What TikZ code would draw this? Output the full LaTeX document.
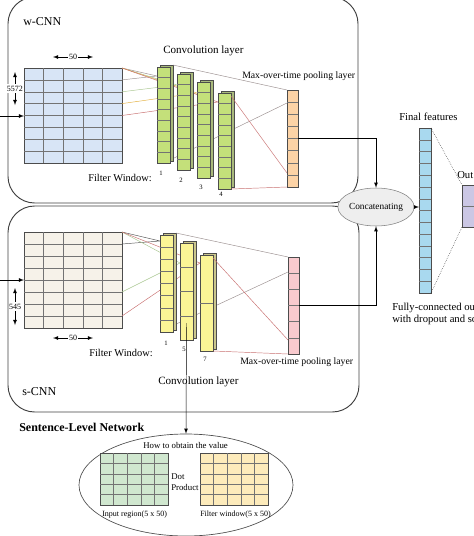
\documentclass[tikz,border=0pt]{standalone}
\usepackage{fontspec}
\setmainfont{Liberation Serif}
\usetikzlibrary{arrows,calc,positioning,shapes.geometric}

\definecolor{wblue}{HTML}{D8E5F6}
\definecolor{sbeige}{HTML}{F6F2E9}
\definecolor{wgreen}{HTML}{C4E07A}
\definecolor{syellow}{HTML}{FBF596}
\definecolor{porange}{HTML}{FCD3A6}
\definecolor{ppink}{HTML}{F9CACE}
\definecolor{fblue}{HTML}{A9D9EF}
\definecolor{opurple}{HTML}{CBC7E4}
\definecolor{vgreen}{HTML}{D0E7CF}
\definecolor{vyellow}{HTML}{FDEBBB}
\definecolor{cgray}{HTML}{EEEEEE}
\definecolor{wgray}{HTML}{9B9090}
\definecolor{wred}{HTML}{C87070}
\definecolor{wgrn}{HTML}{A9C690}
\definecolor{wyel}{HTML}{E3B040}
\definecolor{wdark}{HTML}{555555}

\tikzset{
  lbl/.style={inner sep=0pt, anchor=west, font=\fontsize{8.3}{9}\selectfont},
  small/.style={inner sep=0pt, font=\fontsize{6}{7}\selectfont},
  num/.style={inner sep=0pt, font=\fontsize{5}{6}\selectfont},
  panel/.style={draw=black!75, rounded corners=20pt, line width=0.7pt},
  cellbox/.style={draw=black!70, line width=0.4pt},
  cellline/.style={draw=black!55, line width=0.3pt},
  wire/.style={line width=0.35pt},
}

% one column of cells: name, left, top, width, height, rows, colour
\newcommand{\cellcol}[7]{%
  \node[cellbox, fill=#7, anchor=north west, inner sep=0pt, outer sep=0pt,
        minimum width=#4*0.75pt, minimum height=#5*0.75pt] (#1) at (#2,#3) {};
  \pgfmathtruncatemacro\nrows{#6-1}
  \foreach \k in {1,...,\nrows}
    \draw[cellline] (#2,#3+\k*#5/#6) -- ++(#4,0);
}
% feature map with back plate: name, left, top, height, rows, colour
\newcommand{\fmap}[6]{%
  \draw[cellbox, fill=#6!75!black!80] (#2+3,#3-2) rectangle ++(13,#4);
  \cellcol{#1}{#2}{#3}{13}{#4}{#5}{#6}%
}
% grid of cells: name, left, top, width, height, cols, rows, colour
\newcommand{\cellgrid}[8]{%
  \node[cellbox, fill=#8, anchor=north west, inner sep=0pt, outer sep=0pt,
        minimum width=#4*0.75pt, minimum height=#5*0.75pt] (#1) at (#2,#3) {};
  \pgfmathtruncatemacro\ncols{#6-1}
  \pgfmathtruncatemacro\nrows{#7-1}
  \foreach \k in {1,...,\ncols}
    \draw[cellline] (#2+\k*#4/#6,#3) -- ++(0,#5);
  \foreach \k in {1,...,\nrows}
    \draw[cellline] (#2,#3+\k*#5/#7) -- ++(#4,0);
}

\begin{document}
\begin{tikzpicture}[x=0.75pt,y=-0.75pt,>=latex]
  \useasboundingbox (0,0) rectangle (474,536);

  % the two networks
  \draw[panel] (8,-3) rectangle (358,203);
  \draw[panel] (8,206) rectangle (359,412);
  \node[lbl, font=\fontsize{9}{10}\selectfont] (wName) at (23,22) {w-CNN};
  \node[lbl, font=\fontsize{9}{10}\selectfont] (sName) at (22,392) {s-CNN};

  %%% w-CNN
  \cellgrid{wIn}{24}{68}{98}{95}{5}{8}{wblue}
  \coordinate (wInA) at ($(wIn.north east)+(0,11.9)$);
  \coordinate (wInB) at ($(wIn.north east)+(0,23.8)$);
  \coordinate (wInC) at ($(wIn.north east)+(0,35.6)$);
  \coordinate (wInD) at ($(wIn.north east)+(0,47.5)$);
  \coordinate (wSrc) at (0,116);
  \draw[->, wire] (wSrc) -- (wSrc -| wIn.west);
  \draw[<->, wire] (53,57) -- (93,57) node[small, midway, fill=white, inner xsep=1pt] {50};
  \draw[<->, wire] (15,72) -- (15,105) node[small, midway, fill=white, inner ysep=1pt] {5572};

  \coordinate (wT1) at (157,76);
  \coordinate (wT2) at (177,85);
  \coordinate (wT3) at (197,93);
  \coordinate (wT4) at (218,102);
  \draw[wire, wgray] (wIn.north east) -- (wT1) (wInA) -- (wT1);
  \draw[wire, wgrn]  (wIn.north east) -- (wT2) (wInB) -- (wT2);
  \draw[wire, wyel]  (wIn.north east) -- (wT3) (wInC) -- (wT3);
  \draw[wire, wred]  (wIn.north east) -- (wT4) (wInD) -- (wT4);

  \cellcol{wPool}{287}{90}{11}{97}{8}{porange}
  \draw[wire, wgray] ($(wIn.north east)+(48,92)$) -- ($(wPool.north west)+(0,13)$);

  \fmap{wM1}{157}{67}{96}{9}{wgreen}
  \fmap{wM2}{177}{74}{96}{9}{wgreen}
  \fmap{wM3}{197}{82}{96}{9}{wgreen}
  \fmap{wM4}{218}{93}{96}{9}{wgreen}

  \draw[wire, wgray] ($(wM1.north east)+(3,-2)$) -- (wPool.north west);
  \draw[wire, wred] ($(wM4.north east)+(0,3)$) -- ($(wPool.south west)+(0,-14)$);
  \draw[wire, wred] (wM4.south east) -- (wPool.south west);

  \node[num] (wN1) at (161,173) {1};
  \node[num] (wN2) at (181,180) {2};
  \node[num] (wN3) at (201,187) {3};
  \node[num] (wN4) at (221,194) {4};
  \node[lbl, font=\fontsize{7.8}{9}\selectfont] (wWin) at (88,178) {Filter Window:};
  \node[lbl] (wConv) at (163,51) {Convolution layer};
  \node[lbl, font=\fontsize{7.3}{9}\selectfont] (wMax) at (242,76) {Max-over-time pooling layer};

  %%% s-CNN
  \cellgrid{sIn}{24}{232}{98}{96}{5}{8}{sbeige}
  \coordinate (sInA) at ($(sIn.north east)+(0,12)$);
  \coordinate (sInB) at ($(sIn.north east)+(0,60)$);
  \coordinate (sInC) at ($(sIn.north east)+(0,84)$);
  \coordinate (sSrc) at (0,280);
  \draw[->, wire] (sSrc) -- (sSrc -| sIn.west);
  \draw[<->, wire] (53,338) -- (93,338) node[small, midway, fill=white, inner xsep=1pt] {50};
  \draw[<->, wire] (15,288) -- (15,325) node[small, midway, fill=white, inner ysep=1pt] {545};

  \coordinate (sT1) at (160,241);
  \coordinate (sT2) at (180,263);
  \coordinate (sT3) at (200,263);
  \draw[wire, wdark] (sIn.north east) -- (sT1) (sInA) -- (sT1);
  \draw[wire, wgrn]  (sIn.north east) -- (sT2) (sInB) -- (sT2);
  \draw[wire, wred]  (sIn.north east) -- (sT3) (sInC) -- (sT3);

  \cellcol{sPool}{288}{257}{11}{97}{6}{ppink}
  \draw[wire, wgray] ($(sIn.north east)+(50,94)$) -- ($(sPool.north west)+(0,15)$);

  \fmap{sM1}{160}{235}{97}{8}{syellow}
  \fmap{sM2}{180}{243}{97}{4}{syellow}
  \fmap{sM3}{200}{255}{96}{2}{syellow}

  \draw[wire, wgray] ($(sM1.north east)+(3,-2)$) -- (sPool.north west);
  \draw[wire, wred] ($(sM3.north east)+(0,3)$) -- ($(sPool.south west)+(0,-14)$);
  \draw[wire, wred] (sM3.south east) -- (sPool.south west);

  \node[num] (sN1) at (166,343) {1};
  \node[num] (sN2) at (184,349) {5};
  \node[num] (sN3) at (205,359) {7};
  \node[lbl, font=\fontsize{7.8}{9}\selectfont] (sWin) at (89,353) {Filter Window:};
  \node[lbl] (sConv) at (158,382) {Convolution layer};
  \node[lbl, font=\fontsize{7.3}{9}\selectfont] (sMax) at (240,362) {Max-over-time pooling layer};

  %%% joining the two
  \node[ellipse, draw=black!50, fill=cgray, inner sep=0pt, minimum width=43.5pt,
        minimum height=28.5pt, font=\fontsize{7}{8}\selectfont] (concat) at (376,207) {Concatenating};
  \draw[->, wire] (wPool.east) -| (concat.north);
  \draw[->, wire] (sPool.east) -| (concat.south);

  \cellcol{final}{419}{128}{12}{165}{14}{fblue}
  \cellcol{out}{462}{185}{20}{42}{2}{opurple}
  \draw[->, wire] (concat.east) -- (concat.east -| final.west);
  \draw[wire, densely dotted] (final.north east) -- (out.north west);
  \draw[wire, densely dotted] (final.south east) -- (out.south west);
  \node[lbl, font=\fontsize{8}{9}\selectfont] (fLbl) at (399,117) {Final features};
  \node[lbl, font=\fontsize{8}{9}\selectfont] (oLbl) at (457,175) {Out};
  \node[lbl, font=\fontsize{8}{9}\selectfont, align=left] (fcLbl) at (392,314)
    {Fully-connected output layer\\with dropout and softmax};

  %%% how the value is obtained
  \node[lbl, font=\bfseries\fontsize{9}{10}\selectfont] (sentLbl) at (19,427) {Sentence-Level Network};
  \node[ellipse, draw=black!70, line width=0.5pt, inner sep=0pt, minimum width=160.5pt,
        minimum height=76.5pt] (valueEll) at (186,485) {};
  \coordinate (sTap) at ($(sM2.south)+(0,-17)$);
  \draw[->, wire] (sTap) -- (valueEll.north);
  \node[lbl, font=\fontsize{6.6}{8}\selectfont] (howLbl) at (143,445) {How to obtain the value};
  \cellgrid{vIn}{100}{453}{68}{52}{5}{5}{vgreen}
  \cellgrid{vFilt}{200}{453}{68}{52}{5}{5}{vyellow}
  \node[lbl, font=\fontsize{6.6}{8}\selectfont, align=left] (dotLbl) at (171,482) {Dot\\Product};
  \node[lbl, font=\fontsize{6}{7}\selectfont] (vInLbl) at (102,515) {Input region(5 x 50)};
  \node[lbl, font=\fontsize{6}{7}\selectfont] (vFiltLbl) at (200,515) {Filter window(5 x 50)};
\end{tikzpicture}
\end{document}
